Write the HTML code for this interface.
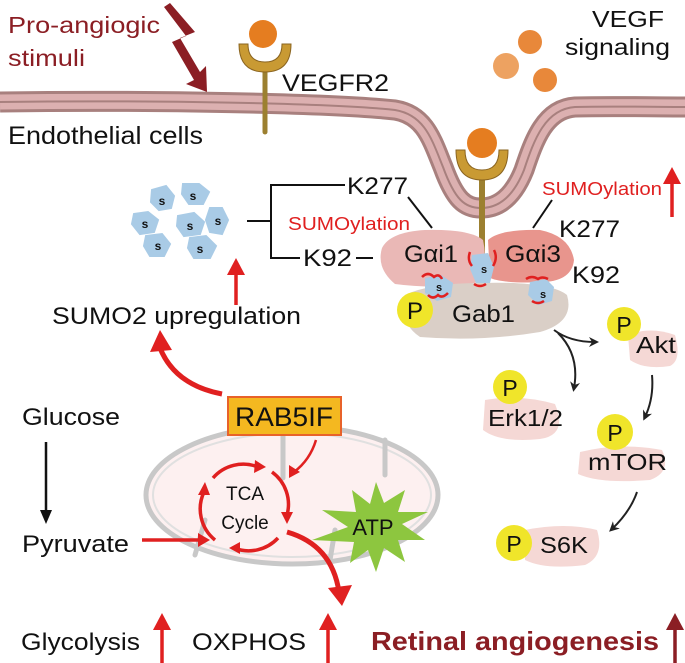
<!DOCTYPE html>
<html><head><meta charset="utf-8"><style>
html,body{margin:0;padding:0;background:#fff}
svg{display:block}
text{font-family:"Liberation Sans",sans-serif}
</style></head><body>
<svg width="685" height="663" viewBox="0 0 685 663" xmlns="http://www.w3.org/2000/svg">
<defs>
<marker id="ar" markerWidth="10" markerHeight="10" refX="6" refY="5" orient="auto" markerUnits="userSpaceOnUse"><path d="M0,0 L10,5 L0,10 L3,5 z" fill="#222"/></marker>
</defs>
<!-- membrane -->
<g fill="none">
<path id="m" d="M0,102 C150,100 330,103 395,110 C425,115 432,140 443,167 C455,200 465,208 481,208 C500,208 514,195 524,170 C534,140 545,109 575,107 C610,106 650,107 685,107" stroke="#a8807e" stroke-width="21"/>
<path d="M0,102 C150,100 330,103 395,110 C425,115 432,140 443,167 C455,200 465,208 481,208 C500,208 514,195 524,170 C534,140 545,109 575,107 C610,106 650,107 685,107" stroke="#dcb0b0" stroke-width="15"/>
<path d="M0,102 C150,100 330,103 395,110 C425,115 432,140 443,167 C455,200 465,208 481,208 C500,208 514,195 524,170 C534,140 545,109 575,107 C610,106 650,107 685,107" stroke="#a8807e" stroke-width="2"/>
</g>
<!-- texts top -->
<text x="8" y="33" font-size="23" fill="#8b1e24" textLength="152" lengthAdjust="spacingAndGlyphs">Pro-angiogic</text>
<text x="8" y="66" font-size="23" fill="#8b1e24" textLength="77" lengthAdjust="spacingAndGlyphs">stimuli</text>
<path d="M170,3 L195,32 L180,38 L200,72 L206,66 L207,92 L186,84 L194,80 L172,42 L186,36 L164,7 z" fill="#8b1e24"/>
<text x="592" y="27" font-size="23" fill="#111" textLength="72" lengthAdjust="spacingAndGlyphs">VEGF</text>
<text x="565" y="55" font-size="23" fill="#111" textLength="105" lengthAdjust="spacingAndGlyphs">signaling</text>
<circle cx="530" cy="42" r="12" fill="#e8883a"/>
<circle cx="506" cy="66" r="13" fill="#eda261"/>
<circle cx="545" cy="80" r="12" fill="#e8883a"/>
<text x="8" y="144" font-size="25" fill="#111" textLength="195" lengthAdjust="spacingAndGlyphs">Endothelial cells</text>
<!-- left receptor -->
<line x1="265" y1="68" x2="265" y2="132" stroke="#9c8030" stroke-width="5" stroke-linecap="round"/>
<path d="M239,44 Q239,72 265,72 Q291,72 291,44 L282,44 Q282,62 265,62 Q248,62 248,44 z" fill="#c99a33" stroke="#8a6420" stroke-width="1"/>
<circle cx="263" cy="34" r="14" fill="#e57d20"/>
<text x="282" y="91" font-size="24" fill="#111" textLength="107" lengthAdjust="spacingAndGlyphs">VEGFR2</text>
<!-- dip receptor -->
<line x1="482" y1="178" x2="482" y2="258" stroke="#9c8030" stroke-width="6"/>
<path d="M456,150 Q456,180 482,180 Q508,180 508,150 L499,150 Q499,170 482,170 Q465,170 465,150 z" fill="#c99a33" stroke="#8a6420" stroke-width="1"/>
<circle cx="482" cy="143" r="15" fill="#e57d20"/>
<!-- SUMO cluster -->
<g fill="#a9cbe6" stroke="#a9cbe6" stroke-width="2">
<path d="M152,190 l14,-4 l8,10 l-3,12 l-12,2 l-8,-8z"/>
<path d="M183,184 l16,0 l10,8 l-6,12 l-14,0 l-7,-10z"/>
<path d="M134,214 l14,-2 l10,8 l-4,12 l-14,2 l-8,-10z"/>
<path d="M178,216 l16,-3 l10,9 l-4,12 l-16,2 l-7,-10z"/>
<path d="M210,208 l12,0 l6,12 l-6,14 l-12,-2 l-4,-12z"/>
<path d="M146,236 l16,-2 l8,10 l-6,12 l-14,0 l-6,-10z"/>
<path d="M190,238 l16,-2 l10,10 l-6,12 l-16,0 l-6,-10z"/>
</g>
<g font-size="12" font-weight="bold" fill="#111" text-anchor="middle">
<text x="162" y="205">s</text><text x="193" y="200">s</text><text x="145" y="228">s</text><text x="190" y="230">s</text><text x="218" y="225">s</text><text x="158" y="250">s</text><text x="200" y="253">s</text>
</g>
<!-- bracket -->
<path d="M345,185 L271,185 L271,258 L300,258 M247,221 L271,221" fill="none" stroke="#111" stroke-width="2"/>
<text x="347" y="194" font-size="24" fill="#111" textLength="61" lengthAdjust="spacingAndGlyphs">K277</text>
<text x="288" y="230" font-size="18" fill="#e02020" textLength="122" lengthAdjust="spacingAndGlyphs">SUMOylation</text>
<text x="303" y="266" font-size="24" fill="#111" textLength="49" lengthAdjust="spacingAndGlyphs">K92</text>
<line x1="356" y1="258" x2="373" y2="258" stroke="#111" stroke-width="2"/>
<line x1="408" y1="197" x2="432" y2="228" stroke="#111" stroke-width="2"/>
<text x="542" y="195" font-size="18" fill="#e02020" textLength="120" lengthAdjust="spacingAndGlyphs">SUMOylation</text>
<line x1="672" y1="217" x2="672" y2="180" stroke="#e02020" stroke-width="3.5"/>
<path d="M663,184 L672,167 L681,184z" fill="#e02020"/>
<line x1="552" y1="200" x2="533" y2="228" stroke="#111" stroke-width="2"/>
<text x="559" y="237" font-size="24" fill="#111" textLength="61" lengthAdjust="spacingAndGlyphs">K277</text>
<text x="572" y="283" font-size="24" fill="#111" textLength="48" lengthAdjust="spacingAndGlyphs">K92</text>
<!-- G proteins -->
<path d="M382,248 Q390,232 425,230 Q470,229 483,240 Q488,262 480,282 Q440,290 395,284 Q376,268 382,248z" fill="#eab8b6"/>
<path d="M488,240 Q500,229 540,230 Q570,236 574,260 Q572,280 545,282 Q505,284 490,278z" fill="#e8958d"/>
<text x="404" y="262" font-size="24" fill="#111" textLength="54" lengthAdjust="spacingAndGlyphs">Gαi1</text>
<text x="505" y="262" font-size="24" fill="#111" textLength="56" lengthAdjust="spacingAndGlyphs">Gαi3</text>
<path d="M405,295 Q430,283 480,283 Q550,281 567,295 Q575,322 540,332 Q480,342 420,337 Q398,322 405,295z" fill="#dacfc7"/>
<circle cx="415" cy="310" r="18" fill="#f0e52a"/>
<text x="415" y="319" font-size="24" fill="#111" text-anchor="middle">P</text>
<text x="452" y="322" font-size="24" fill="#111" textLength="63" lengthAdjust="spacingAndGlyphs">Gab1</text>
<g fill="#a9cbe6"><path d="M425,278 l16,-3 l12,8 l-2,14 l-14,4 l-12,-8z"/><path d="M472,255 l16,-2 l6,14 l-4,16 l-14,0 l-6,-14z"/><path d="M530,282 l16,-3 l8,8 l-2,14 l-14,4 l-10,-10z"/></g>
<g font-size="11" font-weight="bold" fill="#111" text-anchor="middle"><text x="439" y="291">s</text><text x="484" y="273">s</text><text x="543" y="298">s</text></g>
<g fill="none" stroke="#e02020" stroke-width="2.5"><path d="M422,277 q6,-6 12,0 q5,-4 8,2"/><path d="M428,295 q5,5 10,0 q4,4 10,-2"/><path d="M470,252 q-3,8 2,14"/><path d="M494,250 q4,8 -1,16"/><path d="M474,284 q6,4 12,0"/><path d="M526,279 q6,-4 12,0 q4,-3 10,0"/><path d="M532,301 q6,4 12,0"/></g>
<!-- SUMO2 -->
<line x1="236" y1="305" x2="236" y2="272" stroke="#e02020" stroke-width="3.5"/>
<path d="M227,275 L236,258 L245,275z" fill="#e02020"/>
<text x="52" y="324" font-size="24" fill="#111" textLength="249" lengthAdjust="spacingAndGlyphs">SUMO2 upregulation</text>
<!-- right pathway -->
<path d="M554,330 Q570,342 595,342" fill="none" stroke="#222" stroke-width="2" marker-end="url(#ar)"/>
<path d="M558,333 Q580,355 574,388" fill="none" stroke="#222" stroke-width="2" marker-end="url(#ar)"/>
<path d="M652,375 Q654,398 645,417" fill="none" stroke="#222" stroke-width="2" marker-end="url(#ar)"/>
<path d="M637,492 Q630,512 612,529" fill="none" stroke="#222" stroke-width="2" marker-end="url(#ar)"/>
<path d="M628,335 Q650,326 675,335 Q682,360 670,366 Q645,370 630,360z" fill="#f5d8d5"/>
<circle cx="624" cy="324" r="17" fill="#f0e52a"/><text x="624" y="333" font-size="23" text-anchor="middle" fill="#111">P</text>
<text x="636" y="353" font-size="23" fill="#111" textLength="40" lengthAdjust="spacingAndGlyphs">Akt</text>
<path d="M485,400 Q520,394 555,404 Q568,435 540,439 Q500,443 483,430z" fill="#f5d8d5"/>
<circle cx="510" cy="387" r="17" fill="#f0e52a"/><text x="510" y="396" font-size="23" text-anchor="middle" fill="#111">P</text>
<text x="488" y="426" font-size="23" fill="#111" textLength="75" lengthAdjust="spacingAndGlyphs">Erk1/2</text>
<path d="M580,452 Q620,442 662,450 Q672,472 650,480 Q600,484 578,474z" fill="#f5d8d5"/>
<circle cx="615" cy="432" r="18" fill="#f0e52a"/><text x="615" y="441" font-size="23" text-anchor="middle" fill="#111">P</text>
<text x="588" y="470" font-size="23" fill="#111" textLength="79" lengthAdjust="spacingAndGlyphs">mTOR</text>
<path d="M525,530 Q565,522 597,530 Q605,556 585,565 Q545,570 525,560z" fill="#f5d8d5"/>
<circle cx="514" cy="543" r="18" fill="#f0e52a"/><text x="514" y="552" font-size="23" text-anchor="middle" fill="#111">P</text>
<text x="540" y="553" font-size="23" fill="#111" textLength="48" lengthAdjust="spacingAndGlyphs">S6K</text>
<!-- metabolism -->
<text x="22" y="425" font-size="24" fill="#111" textLength="98" lengthAdjust="spacingAndGlyphs">Glucose</text>
<line x1="46" y1="442" x2="46" y2="512" stroke="#111" stroke-width="2.5"/>
<path d="M40,510 L46,524 L52,510z" fill="#111"/>
<text x="22" y="552" font-size="24" fill="#111" textLength="107" lengthAdjust="spacingAndGlyphs">Pyruvate</text>
<ellipse cx="292" cy="495" rx="146" ry="69" fill="#fdf0f0" stroke="#c8c8c8" stroke-width="5"/>
<ellipse cx="292" cy="495" rx="139" ry="62" fill="none" stroke="#e0e0e0" stroke-width="2"/>
<path d="M283,433 L283,478 M385,440 L385,475 M195,555 L205,520 M330,560 L335,530" stroke="#c8c8c8" stroke-width="5" fill="none" stroke-linecap="round"/>
<path d="M142,540 L200,540" stroke="#e02020" stroke-width="3.5"/>
<path d="M198,533 L210,540 L198,547z" fill="#e02020"/>
<g fill="none" stroke="#e02020" stroke-width="3.5">
<path d="M213,478 A40,40 0 0 1 258,467"/>
<path d="M272,472 A40,40 0 0 1 287,515"/>
<path d="M278,538 A40,40 0 0 1 234,548"/>
<path d="M215,540 A40,40 0 0 1 204,492"/>
</g>
<g fill="#e02020">
<path d="M255,460 L266,467 L254,473z"/><path d="M281,512 L287,524 L293,512z"/><path d="M240,542 L229,548 L240,554z"/><path d="M198,495 L205,482 L210,495z"/>
</g>
<text x="245" y="500" font-size="19" text-anchor="middle" fill="#111">TCA</text>
<text x="245" y="529" font-size="19" text-anchor="middle" fill="#111">Cycle</text>
<polygon points="376,482 384,503 405,490 398,512 428,512 402,524 425,540 398,540 405,562 384,548 376,572 368,550 350,563 354,542 312,540 348,527 322,510 356,512 352,490 370,504" fill="#8dc63f"/>
<text x="373" y="535" font-size="22" text-anchor="middle" fill="#111">ATP</text>
<path d="M316,440 Q310,460 294,472" fill="none" stroke="#e02020" stroke-width="2.5"/>
<path d="M289,465 L289,478 L300,472z" fill="#e02020"/>
<path d="M287,532 Q332,545 339,592" fill="none" stroke="#e02020" stroke-width="5"/>
<path d="M328,588 L342,606 L352,585z" fill="#e02020"/>
<path d="M222,394 Q175,385 160,348" fill="none" stroke="#e02020" stroke-width="5"/>
<path d="M150,352 L160,330 L172,350z" fill="#e02020"/>
<rect x="228" y="397" width="113" height="38" fill="#f4b820" stroke="#e8622a" stroke-width="2"/>
<text x="284" y="426" font-size="27" text-anchor="middle" fill="#111" textLength="98" lengthAdjust="spacingAndGlyphs">RAB5IF</text>
<!-- bottom -->
<text x="21" y="650" font-size="24" fill="#111" textLength="119" lengthAdjust="spacingAndGlyphs">Glycolysis</text>
<line x1="162" y1="663" x2="162" y2="628" stroke="#e02020" stroke-width="3.5"/>
<path d="M153,630 L162,613 L171,630z" fill="#e02020"/>
<text x="192" y="650" font-size="24" fill="#111" textLength="114" lengthAdjust="spacingAndGlyphs">OXPHOS</text>
<line x1="328" y1="663" x2="328" y2="628" stroke="#e02020" stroke-width="3.5"/>
<path d="M319,630 L328,613 L337,630z" fill="#e02020"/>
<text x="371" y="650" font-size="26" font-weight="bold" fill="#8b1e24" textLength="288" lengthAdjust="spacingAndGlyphs">Retinal angiogenesis</text>
<line x1="675" y1="663" x2="675" y2="628" stroke="#8b1e24" stroke-width="3.5"/>
<path d="M666,630 L675,613 L684,630z" fill="#8b1e24"/>
</svg>
</body></html>
